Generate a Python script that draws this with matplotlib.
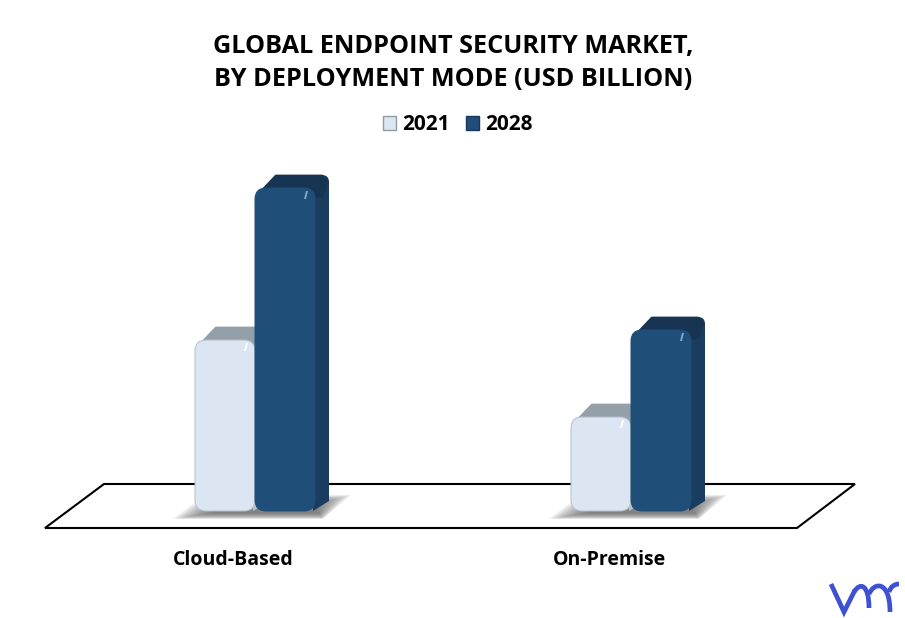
import matplotlib
matplotlib.use('Agg')
import matplotlib.pyplot as plt
import matplotlib.patches as patches
from matplotlib.path import Path
from matplotlib.transforms import IdentityTransform
import numpy as np

plt.rcParams['font.family'] = ['Open Sans', 'DejaVu Sans']

# Data (no axis in the source, values read off as bar heights)
categories = ['Cloud-Based', 'On-Premise']
years = ['2021', '2028']
values_2021 = [8.55, 4.7]
values_2028 = [16.15, 9.05]
title = 'GLOBAL ENDPOINT SECURITY MARKET,\nBY DEPLOYMENT MODE (USD BILLION)'

W, H = 905, 618
PX_X = 376.0   # pixels per category
PX_Y = 20.0    # pixels per unit
BASE_Y = 511   # pixel row of value 0
FLOOR_Y = 528  # pixel row of floor front edge
CAT0_X = 255   # pixel column of first category centre

bar_w = 60 / PX_X
dx = 14 / PX_X
dy = 13 / PX_Y

fig = plt.figure(figsize=(W / 100, H / 100), dpi=100, facecolor='white')
ax = fig.add_axes([0, (H - FLOOR_Y) / H, 1, FLOOR_Y / H])
ax.set_xlim(-CAT0_X / PX_X, (W - CAT0_X) / PX_X)
ax.set_ylim(-(FLOOR_Y - BASE_Y) / PX_Y, BASE_Y / PX_Y)
ax.patch.set_alpha(0)
for s in ax.spines.values():
    s.set_visible(False)
ax.set_yticks([])

x = np.arange(len(categories))

# floor
x_px = lambda p: (p - CAT0_X) / PX_X
y_px = lambda p: (BASE_Y - p) / PX_Y
floor = [(104, 484), (855, 484), (797, 528), (45, 528)]
ax.add_patch(patches.Polygon([(x_px(a), y_px(b)) for a, b in floor], closed=True,
                             fc='white', ec='black', lw=1.5, zorder=1, clip_on=False))

# soft shadow under each pair of bars
for xi in x:
    steps = 16
    for i in range(steps):
        g = i / (steps - 1)
        pts = [(-82 + 40 * g, 8 - 6 * g), (68 - 4 * g, 8 - 6 * g),
               (96 - 38 * g, -16 + 10 * g), (-50 + 30 * g, -16 + 10 * g)]
        ax.add_patch(patches.Polygon(
            [(xi + px / PX_X, (-py) / PX_Y) for px, py in pts],
            closed=True, fc='#707070', ec='none', alpha=0.11, zorder=2))


def draw_bar(xc, val, front, side, top, edge, shine, z):
    left = xc - bar_w / 2
    right = xc + bar_w / 2
    r = 7
    # side face, slanted at the foot, rounded at the top
    verts = [(right - 2 / PX_X, 0), (right + dx, dy - 3 / PX_Y),
             (right + dx, val + dy - r / PX_Y),
             (right + dx, val + dy), (right + dx - r / PX_X, val + dy),
             (right - 2 / PX_X, val + dy), (right - 2 / PX_X, 0)]
    codes = [Path.MOVETO, Path.LINETO, Path.LINETO, Path.CURVE3, Path.CURVE3, Path.LINETO, Path.CLOSEPOLY]
    ax.add_patch(patches.PathPatch(Path(verts, codes), fc=side, ec='none', zorder=z))
    # top face
    ax.add_patch(patches.Polygon(
        [(left + 2 / PX_X, val - 8 / PX_Y), (left + 21 / PX_X, val + dy - 1 / PX_Y), (right + dx - 7 / PX_X, val + dy - 1 / PX_Y),
         (right + dx - 2 / PX_X, val + dy - 6 / PX_Y), (right + 7 / PX_X, val - 8 / PX_Y), (right - 4 / PX_X, val - 8 / PX_Y)],
        closed=True, fc=top, ec=top, lw=2, joinstyle='round', zorder=z + 0.1))
    # front face, real bar clipped to a rounded box
    bar = ax.bar(xc, val, bar_w, color=front, zorder=z + 0.2)[0]
    outline = patches.FancyBboxPatch(
        (left, 0), bar_w, val,
        boxstyle=f'round,pad=0,rounding_size={11 / PX_X}',
        mutation_aspect=PX_X / PX_Y, fc='none', ec=edge, lw=0.7, zorder=z + 0.3)
    ax.add_patch(outline)
    bar.set_clip_path(outline)
    # little highlight near the top corner
    hx = right - 9 / PX_X
    hy = val - 7 / PX_Y
    ax.add_patch(patches.Polygon(
        [(hx - 2 / PX_X, hy - 4 / PX_Y), (hx, hy + 4 / PX_Y), (hx + 2 / PX_X, hy + 4 / PX_Y), (hx, hy - 4 / PX_Y)],
        closed=True, fc=shine, ec='none', zorder=z + 0.4))


for xi, v21, v28 in zip(x, values_2021, values_2028):
    draw_bar(xi - bar_w / 2, v21, '#dce6f2', '#b9c4cf', '#93a0aa', '#b4bec6', '#ffffff', 3)
    draw_bar(xi + bar_w / 2, v28, '#1f4e79', '#1a3d5f', '#173453', '#1f4e79', '#7fa6c8', 4)

# category labels sit a bit left of the bar pair
ax.set_xticks(x - 22 / PX_X)
ax.set_xticklabels(categories, fontsize=14, fontweight='bold', color='black')
ax.tick_params(axis='x', length=0, pad=16)

fig.text(453 / W, 1 - 63 / H, title, ha='center', va='center', fontsize=18.2, fontweight='bold',
         color='black', linespacing=1.42)

handles = [patches.Patch(fc='#dce6f2', ec='#8f9aa3', lw=1),
           patches.Patch(fc='#1f4e79', ec='#17375e', lw=1)]
fig.legend(handles, years, loc='center', bbox_to_anchor=(458 / W, 1 - 125 / H), ncol=2, frameon=False,
           handlelength=0.62, handleheight=0.62, handletextpad=0.3, columnspacing=0.8,
           prop={'size': 15, 'weight': 'bold'})

# logo, in pixel coordinates
logo_col = '#3f51d3'
line = [Path.MOVETO, Path.LINETO, Path.LINETO]
curve = [Path.MOVETO, Path.CURVE4, Path.CURVE4, Path.CURVE4]
logo_v = [(831, 584), (844, 612), (855, 590)]
logo_m1 = [(854, 592), (860, 582), (869, 584), (869, 608)]
logo_m2 = [(869, 594), (874, 582), (890, 580), (890, 612)]
logo_m3 = [(889, 592), (891, 586), (895, 584), (899, 584)]
for pts, codes in [(logo_v, line), (logo_m1, curve), (logo_m2, curve), (logo_m3, curve)]:
    path = Path([(a, H - b) for a, b in pts], codes)
    fig.add_artist(patches.PathPatch(path, fc='none', ec=logo_col, lw=3.4, transform=IdentityTransform()))

fig.savefig('out.png', dpi=100)
